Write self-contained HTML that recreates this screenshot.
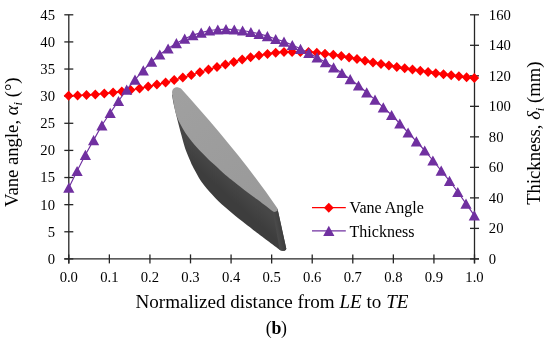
<!DOCTYPE html>
<html><head><meta charset="utf-8"><title>chart</title>
<style>
html,body{margin:0;padding:0;background:#fff;}
svg{display:block;}
text{font-family:"Liberation Serif",serif;fill:#000;}
.tick{font-size:14.67px;}
.ttl{font-size:18.67px;}
.leg{font-size:16px;}
</style></head><body>
<svg width="550" height="343" viewBox="0 0 550 343">
<rect width="550" height="343" fill="#fff"/>
<defs>
<linearGradient id="gd" gradientUnits="userSpaceOnUse" x1="230" y1="178" x2="220" y2="189"><stop offset="0" stop-color="#474747"/><stop offset="1" stop-color="#3d3d3d"/></linearGradient>
<linearGradient id="gt" gradientUnits="userSpaceOnUse" x1="175" y1="90" x2="277" y2="210"><stop offset="0" stop-color="#a0a0a0"/><stop offset="1" stop-color="#999999"/></linearGradient>
<linearGradient id="ge" gradientUnits="userSpaceOnUse" x1="276" y1="232" x2="284" y2="230.6"><stop offset="0" stop-color="#4c4c4c"/><stop offset="1" stop-color="#3a3a3a"/></linearGradient>
</defs>
<g id="blade">
<path d="M172.1,95.0 C172.3,96.2 172.8,99.7 173.2,102.0 C173.6,104.3 174.3,106.9 174.8,109.0 C175.3,111.1 175.7,112.7 176.2,114.8 C176.7,116.9 177.3,119.5 177.9,121.8 C178.5,124.1 179.1,126.5 179.7,128.8 C180.3,131.1 180.8,133.1 181.6,135.8 C182.3,138.5 183.4,142.5 184.2,145.2 C185.0,147.9 185.7,149.9 186.6,152.2 C187.5,154.5 188.5,156.9 189.5,159.2 C190.5,161.5 191.0,163.0 192.4,165.8 C193.8,168.6 196.3,173.2 197.9,176.0 C199.5,178.8 200.5,180.3 202.0,182.4 C203.5,184.5 205.0,186.4 206.7,188.4 C208.4,190.4 210.2,192.4 212.1,194.5 C214.0,196.6 216.0,198.8 218.2,200.9 C220.4,203.0 222.9,205.1 225.2,207.2 C227.5,209.3 229.9,211.4 232.2,213.3 C234.5,215.2 237.1,217.2 239.2,218.9 C241.3,220.6 243.2,222.0 245.0,223.4 C246.8,224.8 248.3,225.9 250.0,227.2 C251.7,228.5 253.0,229.6 255.0,231.2 C257.0,232.8 259.7,234.8 262.0,236.6 C264.3,238.4 266.7,240.1 269.0,241.8 C271.3,243.6 274.2,245.8 276.0,247.1 C277.8,248.4 278.9,249.3 279.5,249.7 C281.5,251 285.8,251.6 286.3,248.8 L277.6,209.5 L240,170 L175,92 Z" fill="url(#gd)"/>
<path d="M273,211.5 L279.6,249.7 C281.5,251 285.8,251.6 286.3,248.8 L277.6,209 Z" fill="url(#ge)"/>
<path d="M172.1,93.2 C171.6,89 175,86.8 178.3,87.4 C179.6,87.7 180.4,88 181,88.5 C215,126 250,168 277.4,208.2 C278.3,210 277.5,211.8 274.6,211.9 C274.2,211.7 273.4,211.6 272.4,210.9 C271.4,210.2 270.0,209.2 268.5,208.0 C267.0,206.8 265.1,205.4 263.2,204.0 C261.3,202.6 259.8,201.4 257.4,199.6 C255.0,197.8 251.6,195.5 248.7,193.3 C245.8,191.1 242.9,188.9 240.0,186.6 C237.1,184.3 233.2,181.2 231.2,179.6 C229.2,178.0 229.4,178.2 228.0,177.0 C226.6,175.8 224.5,174.0 222.7,172.4 C220.9,170.8 219.1,168.9 217.2,167.2 C215.3,165.5 213.1,163.7 211.3,162.0 C209.5,160.3 208.1,158.9 206.4,157.2 C204.7,155.5 202.8,153.7 201.2,152.0 C199.5,150.3 198.0,148.6 196.5,146.9 C195.0,145.2 193.5,143.5 192.0,141.7 C190.5,139.8 188.8,137.8 187.4,135.8 C186.0,133.9 184.8,132.1 183.6,130.0 C182.4,128.0 181.1,125.6 180.0,123.5 C178.9,121.4 177.9,119.4 177.1,117.2 C176.3,115.0 175.6,112.9 175.0,110.2 C174.4,107.5 173.8,103.8 173.3,101.0 C172.8,98.2 172.3,94.5 172.1,93.2 Z" fill="url(#gt)"/>
</g>
<g stroke="#262626" stroke-width="1.3" fill="none">
<path d="M68.8,14.8 V263.4"/>
<path d="M474.5,14.8 V263.4"/>
<path d="M64.3,258.9 H479.0"/>
<path d="M64.3,258.90 H73.3"/>
<path d="M64.3,231.78 H73.3"/>
<path d="M64.3,204.66 H73.3"/>
<path d="M64.3,177.53 H73.3"/>
<path d="M64.3,150.41 H73.3"/>
<path d="M64.3,123.29 H73.3"/>
<path d="M64.3,96.17 H73.3"/>
<path d="M64.3,69.04 H73.3"/>
<path d="M64.3,41.92 H73.3"/>
<path d="M64.3,14.80 H73.3"/>
<path d="M470.0,258.90 H479.0"/>
<path d="M470.0,228.39 H479.0"/>
<path d="M470.0,197.88 H479.0"/>
<path d="M470.0,167.36 H479.0"/>
<path d="M470.0,136.85 H479.0"/>
<path d="M470.0,106.34 H479.0"/>
<path d="M470.0,75.82 H479.0"/>
<path d="M470.0,45.31 H479.0"/>
<path d="M470.0,14.80 H479.0"/>
<path d="M68.80,254.39999999999998 V263.4"/>
<path d="M109.37,254.39999999999998 V263.4"/>
<path d="M149.94,254.39999999999998 V263.4"/>
<path d="M190.51,254.39999999999998 V263.4"/>
<path d="M231.08,254.39999999999998 V263.4"/>
<path d="M271.65,254.39999999999998 V263.4"/>
<path d="M312.22,254.39999999999998 V263.4"/>
<path d="M352.79,254.39999999999998 V263.4"/>
<path d="M393.36,254.39999999999998 V263.4"/>
<path d="M433.93,254.39999999999998 V263.4"/>
<path d="M474.50,254.39999999999998 V263.4"/>
</g>
<text class="tick" x="55" y="263.80" text-anchor="end">0</text>
<text class="tick" x="55" y="236.68" text-anchor="end">5</text>
<text class="tick" x="55" y="209.56" text-anchor="end">10</text>
<text class="tick" x="55" y="182.43" text-anchor="end">15</text>
<text class="tick" x="55" y="155.31" text-anchor="end">20</text>
<text class="tick" x="55" y="128.19" text-anchor="end">25</text>
<text class="tick" x="55" y="101.07" text-anchor="end">30</text>
<text class="tick" x="55" y="73.94" text-anchor="end">35</text>
<text class="tick" x="55" y="46.82" text-anchor="end">40</text>
<text class="tick" x="55" y="19.70" text-anchor="end">45</text>
<text class="tick" x="488.8" y="263.80">0</text>
<text class="tick" x="488.8" y="233.29">20</text>
<text class="tick" x="488.8" y="202.78">40</text>
<text class="tick" x="488.8" y="172.26">60</text>
<text class="tick" x="488.8" y="141.75">80</text>
<text class="tick" x="488.8" y="111.24">100</text>
<text class="tick" x="488.8" y="80.72">120</text>
<text class="tick" x="488.8" y="50.21">140</text>
<text class="tick" x="488.8" y="19.70">160</text>
<text class="tick" x="68.80" y="282.3" text-anchor="middle">0.0</text>
<text class="tick" x="109.37" y="282.3" text-anchor="middle">0.1</text>
<text class="tick" x="149.94" y="282.3" text-anchor="middle">0.2</text>
<text class="tick" x="190.51" y="282.3" text-anchor="middle">0.3</text>
<text class="tick" x="231.08" y="282.3" text-anchor="middle">0.4</text>
<text class="tick" x="271.65" y="282.3" text-anchor="middle">0.5</text>
<text class="tick" x="312.22" y="282.3" text-anchor="middle">0.6</text>
<text class="tick" x="352.79" y="282.3" text-anchor="middle">0.7</text>
<text class="tick" x="393.36" y="282.3" text-anchor="middle">0.8</text>
<text class="tick" x="433.93" y="282.3" text-anchor="middle">0.9</text>
<text class="tick" x="474.50" y="282.3" text-anchor="middle">1.0</text>
<text class="ttl" x="271.95" y="308.4" style="font-size:19.09px" text-anchor="middle">Normalized distance from <tspan font-style="italic">LE</tspan> to <tspan font-style="italic">TE</tspan></text>
<text x="276.2" y="334" font-size="17.8px" letter-spacing="-0.3" text-anchor="middle">(<tspan font-weight="bold">b</tspan>)</text>
<text class="ttl" transform="translate(18.0,142.2) rotate(-90)" text-anchor="middle">Vane angle, <tspan font-style="italic">α</tspan><tspan font-style="italic" font-size="12.5px" dy="3.5">i</tspan><tspan dy="-3.5"> (°)</tspan></text>
<text class="ttl" transform="translate(540.2,133.2) rotate(-90)" text-anchor="middle">Thickness, <tspan font-style="italic">δ</tspan><tspan font-style="italic" font-size="12.5px" dy="3.5">i</tspan><tspan dy="-3.5"> (mm)</tspan></text>
<polyline fill="none" stroke="#ff0000" stroke-width="1.15" points="68.6,95.7 77.6,95.5 86.5,95.1 95.3,94.5 104.3,93.5 113.1,92.6 121.8,91.4 130.6,90.0 139.6,88.5 148.2,86.6 156.9,84.6 165.6,82.4 174.2,80.0 182.8,77.6 191.3,75.0 199.9,72.3 208.5,69.6 217.0,67.0 225.4,64.4 233.8,61.9 242.2,59.4 250.6,57.2 259.0,55.4 267.5,53.9 275.7,52.7 284.0,52.0 292.1,51.9 300.4,51.9 308.5,52.1 316.8,52.8 325.0,53.8 333.3,54.8 341.3,56.1 349.1,57.6 357.0,59.1 365.0,60.8 373.0,62.4 381.0,63.9 388.9,65.4 396.8,66.9 404.7,68.2 412.5,69.5 420.3,70.8 428.1,72.0 435.8,73.2 443.5,74.3 451.2,75.3 458.9,76.3 466.6,77.2 474.3,78.0"/>
<path fill="#ff0000" d="M68.6,90.7 L73.5,95.7 L68.6,100.7 L63.7,95.7 Z M77.6,90.5 L82.5,95.5 L77.6,100.5 L72.7,95.5 Z M86.5,90.1 L91.4,95.1 L86.5,100.1 L81.6,95.1 Z M95.3,89.5 L100.2,94.5 L95.3,99.5 L90.4,94.5 Z M104.3,88.5 L109.2,93.5 L104.3,98.5 L99.4,93.5 Z M113.1,87.6 L118.0,92.6 L113.1,97.6 L108.2,92.6 Z M121.8,86.4 L126.7,91.4 L121.8,96.4 L116.9,91.4 Z M130.6,85.0 L135.5,90.0 L130.6,95.0 L125.7,90.0 Z M139.6,83.5 L144.5,88.5 L139.6,93.5 L134.7,88.5 Z M148.2,81.6 L153.1,86.6 L148.2,91.6 L143.3,86.6 Z M156.9,79.6 L161.8,84.6 L156.9,89.6 L152.0,84.6 Z M165.6,77.4 L170.5,82.4 L165.6,87.4 L160.7,82.4 Z M174.2,75.0 L179.1,80.0 L174.2,85.0 L169.3,80.0 Z M182.8,72.6 L187.7,77.6 L182.8,82.6 L177.9,77.6 Z M191.3,70.0 L196.2,75.0 L191.3,80.0 L186.4,75.0 Z M199.9,67.3 L204.8,72.3 L199.9,77.3 L195.0,72.3 Z M208.5,64.6 L213.4,69.6 L208.5,74.6 L203.6,69.6 Z M217.0,62.0 L221.9,67.0 L217.0,72.0 L212.1,67.0 Z M225.4,59.4 L230.3,64.4 L225.4,69.4 L220.5,64.4 Z M233.8,56.9 L238.7,61.9 L233.8,66.9 L228.9,61.9 Z M242.2,54.4 L247.1,59.4 L242.2,64.4 L237.3,59.4 Z M250.6,52.2 L255.5,57.2 L250.6,62.2 L245.7,57.2 Z M259.0,50.4 L263.9,55.4 L259.0,60.4 L254.1,55.4 Z M267.5,48.9 L272.4,53.9 L267.5,58.9 L262.6,53.9 Z M275.7,47.7 L280.6,52.7 L275.7,57.7 L270.8,52.7 Z M284.0,47.0 L288.9,52.0 L284.0,57.0 L279.1,52.0 Z M292.1,46.9 L297.0,51.9 L292.1,56.9 L287.2,51.9 Z M300.4,46.9 L305.3,51.9 L300.4,56.9 L295.5,51.9 Z M308.5,47.1 L313.4,52.1 L308.5,57.1 L303.6,52.1 Z M316.8,47.8 L321.7,52.8 L316.8,57.8 L311.9,52.8 Z M325.0,48.8 L329.9,53.8 L325.0,58.8 L320.1,53.8 Z M333.3,49.8 L338.2,54.8 L333.3,59.8 L328.4,54.8 Z M341.3,51.1 L346.2,56.1 L341.3,61.1 L336.4,56.1 Z M349.1,52.6 L354.0,57.6 L349.1,62.6 L344.2,57.6 Z M357.0,54.1 L361.9,59.1 L357.0,64.1 L352.1,59.1 Z M365.0,55.8 L369.9,60.8 L365.0,65.8 L360.1,60.8 Z M373.0,57.4 L377.9,62.4 L373.0,67.4 L368.1,62.4 Z M381.0,58.9 L385.9,63.9 L381.0,68.9 L376.1,63.9 Z M388.9,60.4 L393.8,65.4 L388.9,70.4 L384.0,65.4 Z M396.8,61.9 L401.7,66.9 L396.8,71.9 L391.9,66.9 Z M404.7,63.2 L409.6,68.2 L404.7,73.2 L399.8,68.2 Z M412.5,64.5 L417.4,69.5 L412.5,74.5 L407.6,69.5 Z M420.3,65.8 L425.2,70.8 L420.3,75.8 L415.4,70.8 Z M428.1,67.0 L433.0,72.0 L428.1,77.0 L423.2,72.0 Z M435.8,68.2 L440.7,73.2 L435.8,78.2 L430.9,73.2 Z M443.5,69.3 L448.4,74.3 L443.5,79.3 L438.6,74.3 Z M451.2,70.3 L456.1,75.3 L451.2,80.3 L446.3,75.3 Z M458.9,71.3 L463.8,76.3 L458.9,81.3 L454.0,76.3 Z M466.6,72.2 L471.5,77.2 L466.6,82.2 L461.7,77.2 Z M474.3,73.0 L479.2,78.0 L474.3,83.0 L469.4,78.0 Z"/>
<polyline fill="none" stroke="#7030a0" stroke-width="1.15" points="68.8,187.7 77.1,171.0 85.4,154.8 93.6,140.1 101.9,125.3 110.2,112.8 118.5,101.0 126.7,89.6 135.0,79.7 143.3,70.4 151.6,61.7 159.8,54.5 168.1,48.5 176.4,43.2 184.7,38.7 192.9,35.1 201.2,32.6 209.5,30.5 217.8,29.5 226.0,29.1 234.3,29.5 242.6,30.5 250.9,32.0 259.1,33.8 267.4,36.1 275.7,39.0 284.0,41.6 292.3,45.0 300.5,48.8 308.8,52.9 317.1,57.4 325.4,62.2 333.6,67.3 341.9,73.0 350.2,79.2 358.5,85.5 366.7,92.4 375.0,99.6 383.3,107.4 391.6,115.0 399.8,123.5 408.1,132.5 416.4,141.4 424.7,150.5 432.9,160.5 441.2,170.7 449.5,180.9 457.8,192.0 466.0,203.7 474.3,215.4"/>
<path fill="#7030a0" d="M68.8,182.6 L74.4,192.8 L63.2,192.8 Z M77.1,165.9 L82.7,176.1 L71.5,176.1 Z M85.4,149.7 L91.0,159.9 L79.8,159.9 Z M93.6,135.0 L99.2,145.2 L88.0,145.2 Z M101.9,120.2 L107.5,130.4 L96.3,130.4 Z M110.2,107.7 L115.8,117.9 L104.6,117.9 Z M118.5,95.9 L124.1,106.1 L112.9,106.1 Z M126.7,84.5 L132.3,94.7 L121.1,94.7 Z M135.0,74.6 L140.6,84.8 L129.4,84.8 Z M143.3,65.3 L148.9,75.5 L137.7,75.5 Z M151.6,56.6 L157.2,66.8 L146.0,66.8 Z M159.8,49.4 L165.4,59.6 L154.2,59.6 Z M168.1,43.4 L173.7,53.6 L162.5,53.6 Z M176.4,38.1 L182.0,48.3 L170.8,48.3 Z M184.7,33.6 L190.3,43.8 L179.1,43.8 Z M192.9,30.0 L198.5,40.2 L187.3,40.2 Z M201.2,27.5 L206.8,37.7 L195.6,37.7 Z M209.5,25.4 L215.1,35.6 L203.9,35.6 Z M217.8,24.4 L223.4,34.6 L212.2,34.6 Z M226.0,24.0 L231.6,34.2 L220.4,34.2 Z M234.3,24.4 L239.9,34.6 L228.7,34.6 Z M242.6,25.4 L248.2,35.6 L237.0,35.6 Z M250.9,26.9 L256.5,37.1 L245.3,37.1 Z M259.1,28.7 L264.7,38.9 L253.5,38.9 Z M267.4,31.0 L273.0,41.2 L261.8,41.2 Z M275.7,33.9 L281.3,44.1 L270.1,44.1 Z M284.0,36.5 L289.6,46.7 L278.4,46.7 Z M292.3,39.9 L297.9,50.1 L286.7,50.1 Z M300.5,43.7 L306.1,53.9 L294.9,53.9 Z M308.8,47.8 L314.4,58.0 L303.2,58.0 Z M317.1,52.3 L322.7,62.5 L311.5,62.5 Z M325.4,57.1 L331.0,67.3 L319.8,67.3 Z M333.6,62.2 L339.2,72.4 L328.0,72.4 Z M341.9,67.9 L347.5,78.1 L336.3,78.1 Z M350.2,74.1 L355.8,84.3 L344.6,84.3 Z M358.5,80.4 L364.1,90.6 L352.9,90.6 Z M366.7,87.3 L372.3,97.5 L361.1,97.5 Z M375.0,94.5 L380.6,104.7 L369.4,104.7 Z M383.3,102.3 L388.9,112.5 L377.7,112.5 Z M391.6,109.9 L397.2,120.1 L386.0,120.1 Z M399.8,118.4 L405.4,128.6 L394.2,128.6 Z M408.1,127.4 L413.7,137.6 L402.5,137.6 Z M416.4,136.3 L422.0,146.5 L410.8,146.5 Z M424.7,145.4 L430.3,155.6 L419.1,155.6 Z M432.9,155.4 L438.5,165.6 L427.3,165.6 Z M441.2,165.6 L446.8,175.8 L435.6,175.8 Z M449.5,175.8 L455.1,186.0 L443.9,186.0 Z M457.8,186.9 L463.4,197.1 L452.2,197.1 Z M466.0,198.6 L471.6,208.8 L460.4,208.8 Z M474.3,210.3 L479.9,220.5 L468.7,220.5 Z"/>
<path d="M312,207.7 H345.8" stroke="#ff0000" stroke-width="1.3"/>
<path fill="#ff0000" d="M328.8,202.7 L333.7,207.7 L328.8,212.7 L323.9,207.7 Z"/>
<path d="M312,230.9 H345.8" stroke="#7030a0" stroke-width="1.3"/>
<path fill="#7030a0" d="M328.8,225.7 L334.4,235.9 L323.2,235.9 Z"/>
<text class="leg" x="349.6" y="212.8">Vane Angle</text>
<text class="leg" x="349.6" y="237">Thickness</text>
</svg>
</body></html>
